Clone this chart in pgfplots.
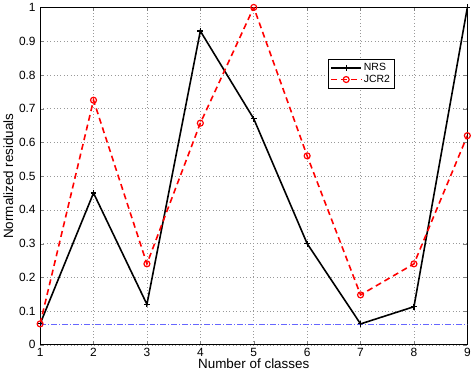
\documentclass[border=0pt]{standalone}
\usepackage{pgfplots}
\pgfplotsset{compat=1.18}
\usepackage{fontspec}
\setmainfont{Liberation Sans}
\begin{document}
\begin{tikzpicture}
\begin{axis}[
  scale only axis,
  width=428bp, height=338bp,
  xmin=1, xmax=9, ymin=0, ymax=1,
  xtick={1,...,9},
  ytick={0,0.1,...,1},
  yticklabels={0,0.1,0.2,0.3,0.4,0.5,0.6,0.7,0.8,0.9,1},
  tick align=inside,
  tick pos=both,
  major tick length=4bp,
  grid=major,
  grid style={dash pattern=on 0.8pt off 2.6pt, gray!80, line width=0.6pt},
  /pgf/number format/assume math mode=true,
  tick label style={font=\fontsize{12}{14}\selectfont},
  yticklabel style={xshift=-1bp},
  label style={font=\fontsize{13.5}{15}\selectfont},
  xlabel={Number of classes},
  ylabel={Normalized residuals},
  xlabel style={yshift=5bp},
  ylabel style={yshift=-1bp},
  axis line style={black, line width=0.8pt},
  legend style={at={(0.674,0.847)}, anchor=north west, font=\fontsize{10.5}{12}\selectfont, draw=black, line width=0.7pt, row sep=-1pt, inner sep=2pt},
  legend image code/.code={\draw[#1] (0bp,0bp) -- (15bp,0bp) -- (30bp,0bp); \draw[#1, only marks] plot coordinates {(15bp,0bp)};},
  legend cell align=left,
]
\addplot[blue!60, dash pattern=on 6pt off 2pt on 1pt off 2pt, line width=0.6pt, forget plot] coordinates {(1,0.062) (9,0.062)};
\addplot[black, line width=1.6pt, mark=+, mark size=3pt, mark options={solid, line width=1.1pt}] coordinates {
(1,0.062) (2,0.45) (3,0.12) (4,0.93) (5,0.67) (6,0.30) (7,0.062) (8,0.113) (9,1.0)};
\addlegendentry{NRS}
\addplot[red, line width=1.6pt, dash pattern=on 6pt off 4pt, mark=o, mark size=3pt, mark options={solid, line width=1.2pt}] coordinates {
(1,0.062) (2,0.725) (3,0.24) (4,0.657) (5,1.0) (6,0.56) (7,0.148) (8,0.24) (9,0.62)};
\addlegendentry{JCR2}
\end{axis}
\end{tikzpicture}
\end{document}
